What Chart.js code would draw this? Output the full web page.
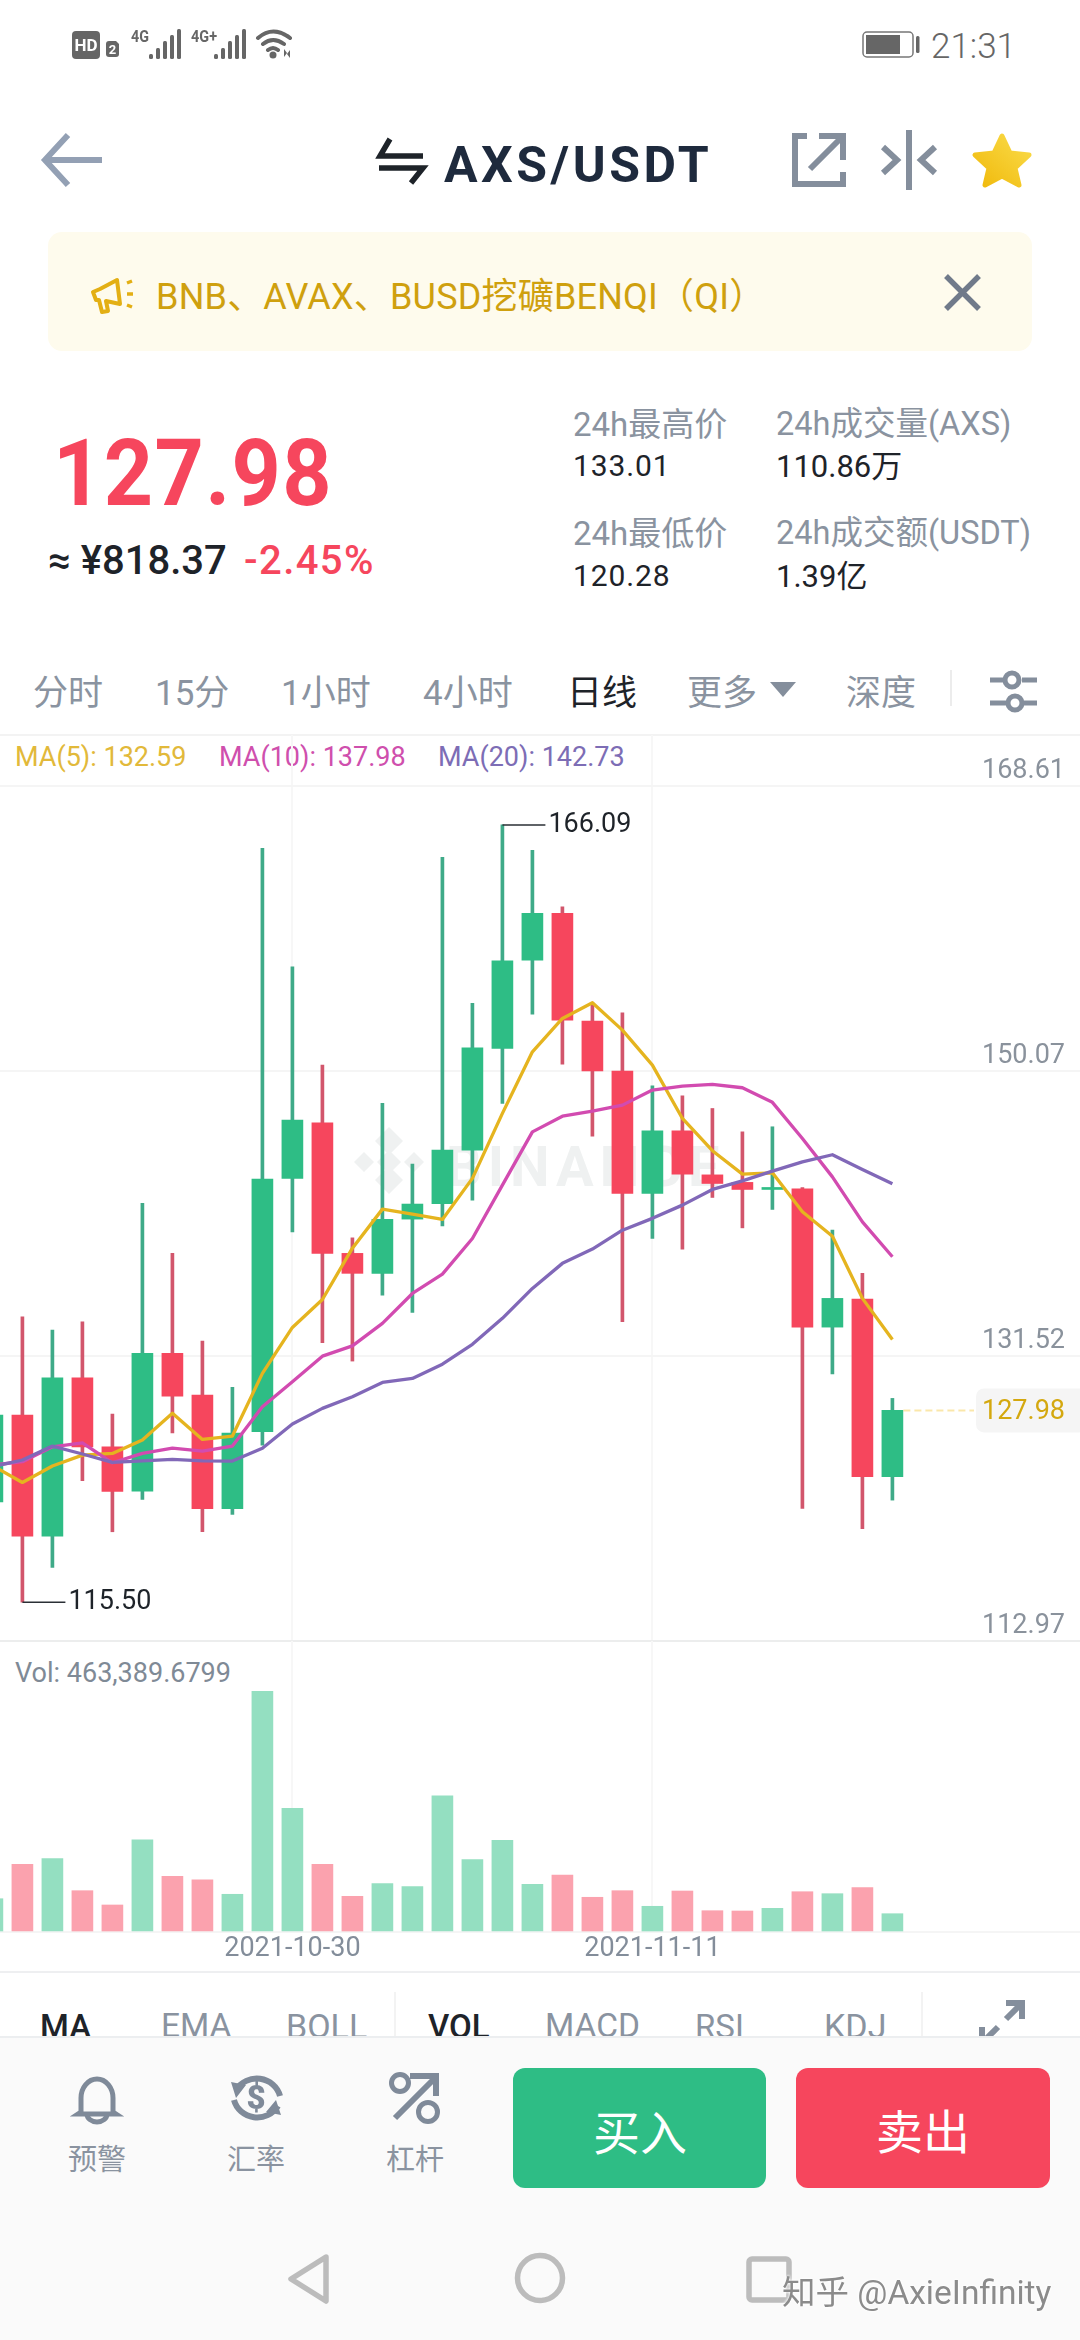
<!DOCTYPE html>
<html lang="zh">
<head>
<meta charset="utf-8">
<title>AXS/USDT</title>
<script src="https://cdn.jsdelivr.net/npm/chart.js@4/dist/chart.umd.js"></script>
<style>
html,body{margin:0;padding:0;background:#fff;}
#page{position:relative;width:1080px;height:2340px;overflow:hidden;background:#fff;font-family:Roboto,"Noto Sans CJK SC",sans-serif;}
.t{position:absolute;line-height:1;white-space:nowrap;transform:translateY(-50%);}
.c{transform:translate(-50%,-50%);}
.g{color:#8a93a0;}
.d{color:#1e2329;}
canvas{position:absolute;left:0;display:block;}
.ln{position:absolute;left:0;width:1080px;}
svg{position:absolute;left:0;top:0;}
</style>
</head>
<body>
<div id="page">
  <!-- status + header -->
  <div class="t" style="left:931px;top:46px;font-size:35px;color:#666;font-weight:300;">21:31</div>
  <div class="t d" style="left:444px;top:165px;font-size:50px;font-weight:700;letter-spacing:3.5px;color:#1e2a3d;">AXS/USDT</div>

  <!-- banner -->
  <div style="position:absolute;left:48px;top:232px;width:984px;height:119px;background:#fefbed;border-radius:14px"></div>
  <div class="t" style="left:156px;top:297px;font-size:36px;letter-spacing:.2px;color:#cfa00e;">BNB、AVAX、BUSD挖礦BENQI（QI）</div>

  <!-- price -->
  <div class="t" style="left:53px;top:474px;font-size:92px;font-weight:700;color:#f6465d;letter-spacing:1.5px;transform:translateY(-50%) scaleX(.935);transform-origin:left center;">127.98</div>
  <div class="t d" style="left:48px;top:561px;font-size:40px;font-weight:500;">≈ ¥818.37</div>
  <div class="t" style="left:244px;top:561px;font-size:40px;font-weight:500;color:#f6465d;letter-spacing:1.4px;">-2.45%</div>

  <div class="t g" style="left:573px;top:424px;font-size:33px">24h最高价</div>
  <div class="t d" style="left:573px;top:466px;font-size:30px;letter-spacing:.9px">133.01</div>
  <div class="t g" style="left:776px;top:424px;font-size:32.500px">24h成交量(AXS)</div>
  <div class="t d" style="left:776px;top:466px;font-size:31px">110.86万</div>
  <div class="t g" style="left:573px;top:533px;font-size:33px">24h最低价</div>
  <div class="t d" style="left:573px;top:576px;font-size:30px;letter-spacing:.9px">120.28</div>
  <div class="t g" style="left:776px;top:533px;font-size:32.500px">24h成交额(USDT)</div>
  <div class="t d" style="left:776px;top:576px;font-size:31px">1.39亿</div>

  <!-- tabs -->
  <div class="t g" style="left:33px;top:693px;font-size:35px">分时</div>
  <div class="t g" style="left:155px;top:693px;font-size:35px">15分</div>
  <div class="t g" style="left:281px;top:693px;font-size:35px">1小时</div>
  <div class="t g" style="left:423px;top:693px;font-size:35px">4小时</div>
  <div class="t d" style="left:567px;top:693px;font-size:35px">日线</div>
  <div class="t g" style="left:687px;top:693px;font-size:35px">更多</div>
  <div class="t g" style="left:846px;top:693px;font-size:35px">深度</div>

  <!-- chart chrome -->
  <div class="ln" style="top:734px;height:2px;background:#f3f3f3"></div>
  <div class="t" style="left:15px;top:757px;font-size:27px;color:#e2b93a">MA(5): 132.59</div>
  <div class="t" style="left:219px;top:757px;font-size:27px;color:#cf4fad">MA(10): 137.98</div>
  <div class="t" style="left:438px;top:757px;font-size:27px;color:#7d6db5">MA(20): 142.73</div>

  <!-- watermark -->
  <svg width="1080" height="2340" viewBox="0 0 1080 2340">
    <g fill="#eff1f1">
      <path d="M389 1127l14 14-14 14-14-14zM364 1152l10 10-10 10-10-10zM414 1152l10 10-10 10-10-10zM389 1166l14 14-14 14-14-14zM389 1150l12 12-12 12-12-12z"/>
    </g>
    <text x="446" y="1186" font-family="Roboto" font-weight="700" font-size="56" letter-spacing="6" fill="#eff1f1">BINANCE</text>
  </svg>

  <canvas id="priceChart" width="1080" height="906" style="top:735px;width:1080px;height:906px"></canvas>
  <div class="ln" style="top:1640px;height:2px;background:#eceded"></div>
  <div class="t" style="left:15px;top:1673px;font-size:27px;color:#7f8a96">Vol: 463,389.6799</div>
  <canvas id="volChart" width="1080" height="349" style="top:1641px;width:1080px;height:349px"></canvas>
  <div class="ln" style="top:1971px;height:2px;background:#eeeff1"></div>

  <!-- indicator row, clipped by the bottom bar -->
  <div style="position:absolute;left:394px;top:1992px;width:2px;height:46px;background:#f3f3f3"></div>
  <div style="position:absolute;left:921px;top:1992px;width:2px;height:46px;background:#f3f3f3"></div>
  <div class="t d" style="left:40px;top:2026px;font-size:33px;font-weight:500">MA</div>
  <div class="t g" style="left:161px;top:2026px;font-size:33.500px">EMA</div>
  <div class="t g" style="left:286px;top:2026px;font-size:34px">BOLL</div>
  <div class="t d" style="left:428px;top:2026px;font-size:33px;font-weight:500">VOL</div>
  <div class="t g" style="left:545px;top:2026px;font-size:33.500px">MACD</div>
  <div class="t g" style="left:695px;top:2026px;font-size:33px">RSI</div>
  <div class="t g" style="left:824px;top:2026px;font-size:34px">KDJ</div>
  <svg width="1080" height="2340" viewBox="0 0 1080 2340">
    <g stroke="#848e9c" stroke-width="6" fill="none">
      <path d="M1006 2019L1020 2005M1006 2003h16v16M998 2027L984 2041M982 2027v16h16"/>
    </g>
  </svg>

  <!-- bottom bar -->
  <div style="position:absolute;left:0;top:2036px;width:1080px;height:304px;background:#fafafa;border-top:2px solid #eceef0;box-sizing:border-box"></div>
  <div class="t c g" style="left:97px;top:2160px;font-size:29px">预警</div>
  <div class="t c g" style="left:256px;top:2160px;font-size:29px">汇率</div>
  <div class="t c g" style="left:415px;top:2160px;font-size:29px">杠杆</div>
  <div style="position:absolute;left:513px;top:2068px;width:253px;height:120px;background:#2ebd85;border-radius:12px"></div>
  <div style="position:absolute;left:796px;top:2068px;width:254px;height:120px;background:#f6465d;border-radius:12px"></div>
  <div class="t c" style="left:640px;top:2133px;font-size:47px;color:#fff">买入</div>
  <div class="t c" style="left:923px;top:2132px;font-size:47px;color:#fff">卖出</div>

  <!-- all icons -->
  <svg width="1080" height="2340" viewBox="0 0 1080 2340">
    <defs><linearGradient id="gold" x1="0" y1="1" x2="1" y2="0"><stop offset="0" stop-color="#f0b90b"/><stop offset="1" stop-color="#fadc4a"/></linearGradient></defs>
    <!-- status left -->
    <rect x="72" y="31" width="28" height="28" rx="4" fill="#666"/>
    <text x="86" y="51" font-family="Roboto" font-weight="700" font-size="17" fill="#fff" text-anchor="middle">HD</text>
    <path d="M106 44q0-3 3-3h7l3 3v10q0 3-3 3h-7q-3 0-3-3z" fill="#666"/>
    <text x="112.500" y="54" font-family="Roboto" font-weight="700" font-size="13" fill="#fff" text-anchor="middle">2</text>
    <text x="131" y="42" font-family="Roboto" font-weight="700" font-size="16" fill="#666" textLength="18" lengthAdjust="spacingAndGlyphs">4G</text>
    <text x="191" y="42" font-family="Roboto" font-weight="700" font-size="16" fill="#666" textLength="26" lengthAdjust="spacingAndGlyphs">4G+</text>
    <g fill="#666">
      <rect x="149" y="54" width="4" height="5" rx="1.500"/><rect x="156" y="48" width="4" height="11" rx="1.500"/><rect x="163" y="41" width="4" height="18" rx="1.500"/><rect x="170" y="35" width="4" height="24" rx="1.500"/><rect x="177" y="29" width="4" height="30" rx="1.500"/>
      <rect x="214" y="54" width="4" height="5" rx="1.500"/><rect x="221" y="48" width="4" height="11" rx="1.500"/><rect x="228" y="41" width="4" height="18" rx="1.500"/><rect x="235" y="35" width="4" height="24" rx="1.500"/><rect x="242" y="29" width="4" height="30" rx="1.500"/>
      <circle cx="273" cy="55" r="3.500"/>
      <path d="M284 49v8l3-4zM290 50v8l-3-4z" />
    </g>
    <g fill="none" stroke="#666" stroke-width="4" stroke-linecap="round">
      <path d="M258 38q15-13 32 0M263 44q10-8 21 0M268 50q5-4 10 0"/>
    </g>
    <!-- battery -->
    <rect x="863" y="32" width="50" height="25" rx="4" fill="none" stroke="#777" stroke-width="1.500"/>
    <rect x="866" y="35" width="34" height="19" fill="#666"/>
    <rect x="916" y="36" width="3.500" height="17" rx="1.500" fill="#666"/>
    <!-- back -->
    <path d="M102 160H47M68 135L45 160l23 25" fill="none" stroke="#93a0b4" stroke-width="6"/>
    <!-- swap -->
    <path d="M390 139L380 156H423M379 168H423L411 183" fill="none" stroke="#1e2329" stroke-width="5.500"/>
    <!-- share -->
    <path d="M807 136H795V184H843V172M819 136H843V160M843 136L810 169" fill="none" stroke="#848e9c" stroke-width="6"/>
    <!-- compare -->
    <path d="M909 130V190" stroke="#848e9c" stroke-width="6"/>
    <path d="M883 147L897 160 883 173M935 147L921 160 935 173" fill="none" stroke="#848e9c" stroke-width="6"/>
    <!-- star -->
    <path d="M1002 136L1010 153 1029 155 1015 168 1019 185 1002 176 985 185 989 168 975 155 994 153Z" fill="url(#gold)" stroke="url(#gold)" stroke-width="5" stroke-linejoin="round"/>
    <!-- speaker -->
    <path d="M100 289l17-9 3 24-14-3 2 10-6 1-3-12-3 0-3-8z" fill="none" stroke="#e3af14" stroke-width="4" stroke-linejoin="round"/>
    <path d="M127 283l5-2M127 294h6M127 305l5 2" stroke="#e3af14" stroke-width="3.500" fill="none"/>
    <!-- close -->
    <path d="M946 276L979 309M979 276L946 309" stroke="#707a8a" stroke-width="5.500"/>
    <!-- tab icons -->
    <path d="M770 682H796L783 697Z" fill="#848e9c"/>
    <rect x="950" y="670" width="2" height="36" fill="#ececec"/>
    <g stroke="#848e9c" stroke-width="5" fill="none">
      <path d="M990 680H1004M1022 680H1037M990 703H1006M1024 703H1037"/>
      <circle cx="1012" cy="680" r="7"/><circle cx="1015" cy="703" r="7"/>
    </g>
    <!-- bell -->
    <g fill="none" stroke="#7f8a99" stroke-width="5">
      <path d="M81 2112V2098a16 19 0 0 1 32 0V2112L116 2114H78Z"/>
      <path d="M87 2114a10 8 0 0 0 20 0" />
    </g>
    <!-- exchange -->
    <g fill="none" stroke="#7f8a99" stroke-width="6">
      <path d="M236 2090a24 23 0 0 1 44 6"/><path d="M278 2106a24 23 0 0 1-44-6"/>
    </g>
    <path d="M231 2082l15 3-10 13zM281 2115l-15-3 10-12z" fill="#7f8a99"/>
    <text x="256" y="2109" font-family="Roboto" font-weight="900" font-size="33" fill="#7f8a99" text-anchor="middle">$</text>
    <!-- percent -->
    <g fill="none" stroke="#7f8a99" stroke-width="5">
      <circle cx="400" cy="2083" r="8.500"/><circle cx="428" cy="2112" r="9.500"/>
      <path d="M395 2118L436 2077M410 2076H436V2096" stroke-width="6"/>
    </g>
    <!-- nav -->
    <path d="M326 2257L291 2279 326 2301Z" fill="none" stroke="#bcbcbc" stroke-width="5.500" stroke-linejoin="round"/>
    <circle cx="540" cy="2278" r="22.500" fill="none" stroke="#bcbcbc" stroke-width="5.500"/>
    <rect x="749" y="2259" width="40" height="41" rx="3" fill="none" stroke="#bcbcbc" stroke-width="5.500"/>
  </svg>
  <div class="t" style="left:782px;top:2293px;font-size:33.500px;color:#8b8b8b;text-shadow:0 0 3px #fff,0 0 3px #fff;">知乎 @AxieInfinity</div>
</div>

<script>
const dates = ["2021-10-20","2021-10-21","2021-10-22","2021-10-23","2021-10-24","2021-10-25","2021-10-26","2021-10-27","2021-10-28","2021-10-29","2021-10-30","2021-10-31","2021-11-01","2021-11-02","2021-11-03","2021-11-04","2021-11-05","2021-11-06","2021-11-07","2021-11-08","2021-11-09","2021-11-10","2021-11-11","2021-11-12","2021-11-13","2021-11-14","2021-11-15","2021-11-16","2021-11-17","2021-11-18","2021-11-19"];
const opens = [122.03,127.67,119.80,130.10,125.61,122.73,131.69,128.98,121.58,126.59,143.08,146.70,138.20,136.90,140.43,141.43,144.92,151.54,157.29,160.34,153.32,150.07,142.10,146.18,143.31,142.82,142.36,142.40,133.40,135.22,123.66];
const closes = [127.67,119.80,130.10,125.61,122.71,131.69,128.91,121.58,126.50,143.03,146.87,138.20,136.90,140.41,141.41,144.92,151.58,157.24,160.34,153.38,150.07,142.10,146.18,143.36,142.75,142.36,142.49,133.40,135.27,123.66,127.98];
const highs = [129.50,134.07,133.21,133.75,127.74,141.45,138.20,132.49,129.48,164.56,156.85,150.45,139.21,147.96,144.01,163.97,154.47,166.09,164.44,160.75,154.49,153.86,149.11,148.45,147.63,146.11,146.44,142.49,139.71,136.90,128.76];
const lows = [120.60,115.50,117.76,123.40,120.08,122.19,126.52,120.08,121.21,125.72,139.60,132.38,131.19,135.48,134.36,139.99,141.67,147.96,153.77,150.52,145.83,133.75,139.17,138.48,141.84,139.86,141.06,121.60,130.36,120.28,122.14];
const ma5 = [124.38,123.29,124.36,125.07,125.18,126.05,127.79,126.09,126.31,130.39,133.38,135.20,138.54,141.08,140.76,140.41,143.08,147.31,151.32,153.49,154.51,152.73,150.45,146.98,144.88,143.36,143.44,140.91,139.32,135.27,132.59];
const ma10 = [124.42,124.64,125.61,125.87,124.57,125.18,125.53,125.33,125.66,128.21,129.84,131.51,132.18,133.64,135.59,136.85,139.17,142.64,146.11,147.13,147.46,147.85,148.83,149.09,149.20,148.98,148.03,145.68,143.18,140.25,137.98];
const ma20 = [124.31,124.75,125.66,125.14,124.60,124.70,124.79,124.70,124.68,125.51,127.09,128.11,128.87,129.80,130.06,130.99,132.28,133.97,135.92,137.55,138.48,139.71,140.48,141.34,142.36,142.92,143.55,144.16,144.62,143.66,142.73];
const volumes = [843000,1714000,1856000,1046000,684000,2337000,1410000,1324000,955000,6095000,3132000,1714000,904000,1223000,1147000,3451000,1831000,2322000,1208000,1443000,879000,1046000,651000,1038000,539000,532000,600000,1020000,970000,1122000,463389.6799];
const priceTicks = [112.97,131.52,150.07,168.61];
const dateTicks = ["2021-10-30","2021-11-11"];
const lastPrice = 127.98;
const highMark = 166.09;
const lowMark = 115.50;

const GREEN = "#2ebd85", RED = "#f6465d";
const isUp = closes.map((c, i) => c >= opens[i]);
const xMin = 0.2533, xMax = 36.2533;
const dateTickIdx = dateTicks.map(d => dates.indexOf(d));
const FONT = "Roboto";

const pts = a => a.map((y, i) => ({x: i, y}));
const lineDs = (label, data, color, order) => ({
  type: "line", label, data: pts(data), borderColor: color, borderWidth: 3.3,
  pointRadius: 0, tension: 0, fill: false, order, borderJoinStyle: "round"
});

const markPlugin = {
  id: "marks",
  afterDatasetsDraw(chart) {
    const {ctx, scales: {x, y}} = chart;
    ctx.save();
    ctx.font = "27px " + FONT;
    ctx.textBaseline = "middle";
    ctx.fillStyle = "#1e2329";
    ctx.strokeStyle = "#2a2f35";
    ctx.lineWidth = 1.5;
    [[highs.indexOf(highMark), highMark], [lows.indexOf(lowMark), lowMark]].forEach(([i, v]) => {
      const px = x.getPixelForValue(i), py = y.getPixelForValue(v);
      ctx.beginPath(); ctx.moveTo(px, py); ctx.lineTo(px + 43, py); ctx.stroke();
      ctx.fillText(v.toFixed(2), px + 46, py);
    });
    // last price line + tag
    const last = dates.length - 1;
    const py = y.getPixelForValue(lastPrice);
    ctx.strokeStyle = "rgba(240,185,11,.35)";
    ctx.lineWidth = 2;
    ctx.setLineDash([7, 4]);
    ctx.beginPath(); ctx.moveTo(x.getPixelForValue(last) + 11, py); ctx.lineTo(974, py); ctx.stroke();
    ctx.setLineDash([]);
    ctx.fillStyle = "#f5f5f5";
    ctx.beginPath(); ctx.roundRect(976, py - 22, 110, 44, 8); ctx.fill();
    ctx.fillStyle = "#d4a80f";
    ctx.textAlign = "right";
    ctx.fillText(lastPrice.toFixed(2), 1065, py + 2);
    ctx.restore();
  }
};

Chart.defaults.animation = false;
Chart.defaults.font.family = FONT;

new Chart(document.getElementById("priceChart"), {
  type: "bar",
  data: {
    datasets: [
      lineDs("MA(20)", ma20, "#8168b8", 1),
      lineDs("MA(10)", ma10, "#d24bb0", 2),
      lineDs("MA(5)", ma5, "#e5b41f", 3),
      { type: "bar", label: "body", order: 4, grouped: false, barThickness: 21,
        data: opens.map((o, i) => ({x: i, y: [o, closes[i]]})),
        backgroundColor: isUp.map(u => u ? GREEN : RED), borderWidth: 0 },
      { type: "bar", label: "wick", order: 5, grouped: false, barThickness: 3,
        data: highs.map((h, i) => ({x: i, y: [lows[i], h]})),
        backgroundColor: isUp.map(u => u ? "#3faa88" : "#d2566c"), borderWidth: 0 }
    ]
  },
  options: {
    responsive: false, devicePixelRatio: 1, animation: false,
    layout: {padding: 0},
    plugins: {legend: {display: false}, title: {display: false}, tooltip: {enabled: false}},
    scales: {
      x: { type: "linear", min: xMin, max: xMax, offset: false,
        afterBuildTicks: s => { s.ticks = dateTickIdx.map(v => ({value: v})); },
        ticks: {display: false},
        grid: {color: "#f7f7f7", lineWidth: 2, drawTicks: false, offset: false}, border: {display: false} },
      y: { type: "linear", position: "right", min: 112.97, max: 171.94,
        afterBuildTicks: s => { s.ticks = priceTicks.map(v => ({value: v})); },
        afterFit: s => { s.width = 0; s.paddingTop = 0; s.paddingBottom = 0; },
        ticks: {mirror: true, padding: -15, labelOffset: -15, color: "#8a929c", autoSkip: false,
                font: {size: 27, family: FONT}, callback: v => Number(v).toFixed(2)},
        grid: {color: "#f5f5f5", lineWidth: 2, drawTicks: false}, border: {display: false} }
    }
  },
  plugins: [markPlugin]
});

new Chart(document.getElementById("volChart"), {
  type: "bar",
  data: {
    datasets: [
      { label: "Vol", grouped: false, barThickness: 21,
        data: volumes.map((v, i) => ({x: i, y: v})),
        backgroundColor: isUp.map(u => u ? "#94dfc1" : "#fba2ae"), borderWidth: 0 }
    ]
  },
  options: {
    responsive: false, devicePixelRatio: 1, animation: false,
    layout: {padding: 0},
    plugins: {legend: {display: false}, title: {display: false}, tooltip: {enabled: false}},
    scales: {
      x: { type: "linear", min: xMin, max: xMax, offset: false,
        afterBuildTicks: s => { s.ticks = dateTickIdx.map(v => ({value: v})); },
        afterFit: s => { s.height = 58; },
        ticks: {color: "#838d9a", autoSkip: false, maxRotation: 0, minRotation: 0, padding: 1,
                font: {size: 27, family: FONT}, callback: v => dates[v]},
        grid: {color: "#f7f7f7", lineWidth: 2, drawTicks: false, offset: false}, border: {display: false} },
      y: { type: "linear", position: "left", min: 0, max: 7368700,
        afterBuildTicks: s => { s.ticks = [{value: 0}]; },
        afterFit: s => { s.width = 0; },
        ticks: {display: false},
        grid: {color: "#f5f5f5", lineWidth: 2, drawTicks: false}, border: {display: false} }
    }
  }
});
</script>
</body>
</html>
